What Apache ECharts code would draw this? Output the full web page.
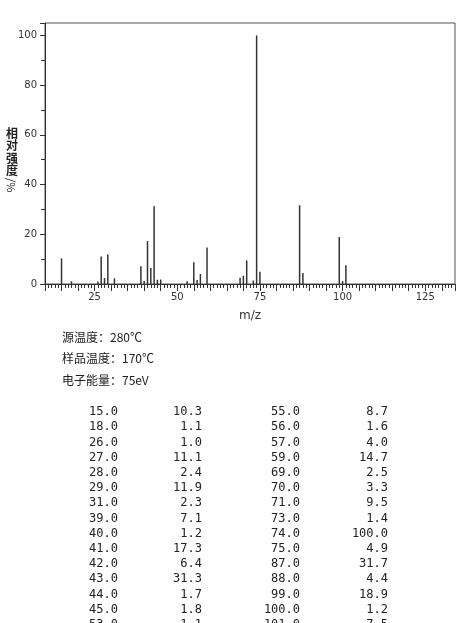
<!DOCTYPE html>
<html>
<head>
<meta charset="utf-8">
<script src="https://cdn.jsdelivr.net/npm/echarts@6/dist/echarts.min.js"></script>
<style>html,body{margin:0;padding:0;background:#fff}#chart{width:474px;height:623px}</style>
</head>
<body>
<div id="chart"></div>
<script>
// 质谱峰
var mzList = [15, 18, 26, 27, 28, 29, 31, 39, 40, 41, 42, 43, 44, 45, 53, 55, 56, 57, 59, 69, 70, 71, 73, 74, 75, 87, 88, 99, 100, 101];
var intensity = [10.3, 1.1, 1.0, 11.1, 2.4, 11.9, 2.3, 7.1, 1.2, 17.3, 6.4, 31.3, 1.7, 1.8, 1.1, 8.7, 1.6, 4.0, 14.7, 2.5, 3.3, 9.5, 1.4, 100.0, 4.9, 31.7, 4.4, 18.9, 1.2, 7.5];
var infoLines = ['源温度：280℃', '样品温度：170℃', '电子能量：75eV'];

var peaks = [];
for (var i = 0; i < mzList.length; i++) {
    peaks.push([mzList[i], intensity[i]]);
}

var mono = 'DejaVu Sans Mono';
var graphics = [];
// 纵轴标题
graphics.push({ type: 'text', left: 6, top: 127, style: { text: '相\n对\n强\n度', font: 'bold 12px "Noto Sans CJK SC"', lineHeight: 12.5, fill: '#222' } });
graphics.push({ type: 'text', x: 17, y: 178, rotation: -Math.PI / 2, style: { text: '/%', font: '11px "Noto Sans CJK SC"', fill: '#222' } });
for (var k = 0; k < infoLines.length; k++) {
    graphics.push({ type: 'text', left: 62, top: 331 + k * 21.5, style: { text: infoLines[k], font: '12px "Noto Sans CJK SC"', fill: '#222' } });
}
// 数据表
var half = Math.ceil(mzList.length / 2);
for (var r = 0; r < half; r++) {
    var y = 412 + r * 15.2;
    var cols = [
        [118, mzList[r].toFixed(1), intensity[r].toFixed(1), 202],
        [300, mzList[r + half].toFixed(1), intensity[r + half].toFixed(1), 388]
    ];
    cols.forEach(function (c) {
        graphics.push({ type: 'text', x: c[0], y: y, style: { text: c[1], font: '12px ' + mono, fill: '#222', align: 'right', verticalAlign: 'middle' } });
        graphics.push({ type: 'text', x: c[3], y: y, style: { text: c[2], font: '12px ' + mono, fill: '#222', align: 'right', verticalAlign: 'middle' } });
    });
}

var chart = echarts.init(document.getElementById('chart'));
chart.setOption({
    animation: false,
    grid: { left: 45, right: 19, top: 23, bottom: 339, show: true, borderColor: '#555', borderWidth: 1 },
    xAxis: [{
        type: 'value', min: 10, max: 134, interval: 1,
        axisLine: { lineStyle: { color: '#333' } },
        axisTick: { inside: false, length: 4, lineStyle: { color: '#333' } },
        axisLabel: { show: false },
        splitLine: { show: false }
    }, {
        type: 'value', min: 10, max: 134, interval: 5, position: 'bottom',
        name: 'm/z', nameLocation: 'middle', nameGap: 26,
        nameTextStyle: { fontFamily: 'DejaVu Sans', fontSize: 12, color: '#333' },
        axisLine: { show: false },
        axisTick: { length: 7, lineStyle: { color: '#333' } },
        axisLabel: {
            fontFamily: 'DejaVu Sans', fontSize: 10, color: '#333', margin: 8,
            formatter: function (v) { return v % 25 === 0 ? v : ''; }
        },
        splitLine: { show: false }
    }],
    yAxis: {
        type: 'value', min: 0, max: 105, interval: 20,
        axisLine: { show: true, lineStyle: { color: '#333' } },
        axisTick: { length: 5, lineStyle: { color: '#333' } },
        minorTick: { show: true, splitNumber: 2, length: 4, lineStyle: { color: '#333' } },
        axisLabel: { fontFamily: 'DejaVu Sans', fontSize: 10, color: '#333', showMaxLabel: false },
        splitLine: { show: false }
    },
    series: [{
        type: 'bar', xAxisIndex: 0, barWidth: 1.5,
        itemStyle: { color: '#333' },
        data: peaks
    }],
    graphic: graphics
});
</script>
</body>
</html>
